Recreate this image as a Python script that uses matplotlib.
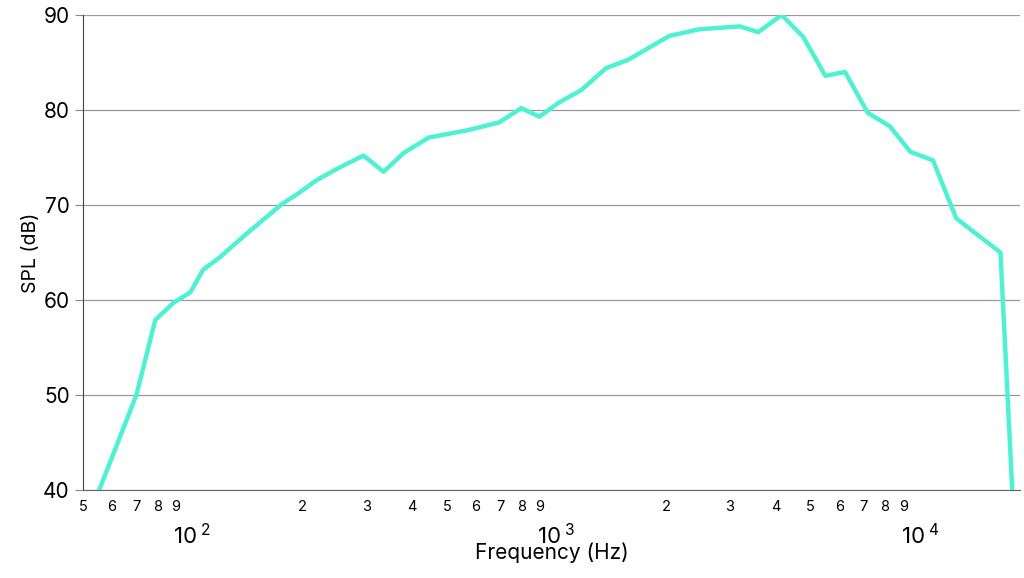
import matplotlib
matplotlib.use("Agg")
import matplotlib.pyplot as plt
import numpy as np

# frequency (Hz) and SPL (dB)
freq_hz = [55.4, 70.1, 79.0, 88.6, 98.6, 107, 118, 143, 176, 195, 219, 252,
           295, 335, 381, 446, 575, 697, 800, 898, 1017, 1171, 1369, 1577,
           2044, 2473, 3191, 3587, 4163, 4767, 5485, 6212, 7174, 8241,
           9393, 10837, 12555, 16614, 17900]
spl_db = [40, 50, 57.9, 59.7, 60.8, 63.2, 64.4, 67.2, 70.1, 71.2, 72.6, 73.9,
          75.2, 73.5, 75.5, 77.1, 77.9, 78.7, 80.2, 79.3, 80.8, 82.1, 84.4,
          85.3, 87.8, 88.5, 88.8, 88.2, 90, 87.7, 83.6, 84.0, 79.7, 78.3,
          75.6, 74.7, 68.6, 65.0, 40]

minor_vals = [50, 60, 70, 80, 90, 200, 300, 400, 500, 600, 700, 800, 900,
              2000, 3000, 4000, 5000, 6000, 7000, 8000, 9000]
minor_labels = ["5", "6", "7", "8", "9", "2", "3", "4", "5", "6", "7", "8", "9",
                "2", "3", "4", "5", "6", "7", "8", "9"]
major_vals = [100, 1000, 10000]
major_labels = [r"$10^{\ 2}$", r"$10^{\ 3}$", r"$10^{\ 4}$"]

plt.rcParams["font.family"] = ["Inter", "DejaVu Sans"]
plt.rcParams["mathtext.fontset"] = "custom"
plt.rcParams["mathtext.rm"] = "Inter"
plt.rcParams["mathtext.it"] = "Inter"

fig = plt.figure(figsize=(10.24, 5.78), dpi=100)
ax = fig.add_axes([83 / 1024, 1 - 490 / 578, (1020 - 83) / 1024, (490 - 15) / 578])

ax.plot(freq_hz, spl_db, color="#4EF2D2", linewidth=3.2, solid_joinstyle="round")

ax.set_xscale("log")
ax.set_xlim(50, 18800)
ax.set_ylim(40, 90)
ax.set_yticks([40, 50, 60, 70, 80, 90])
ax.tick_params(axis="y", labelsize=15, length=6, color="#888888")
ax.yaxis.grid(True, color="#999999", linewidth=0.9)
ax.set_axisbelow(True)

ax.set_xticks(major_vals)
ax.set_xticklabels(major_labels, fontsize=16)
ax.set_xticks(minor_vals, minor=True)
ax.set_xticklabels(minor_labels, minor=True, fontsize=10.5)
ax.tick_params(axis="x", which="major", length=0, pad=24)
ax.tick_params(axis="x", which="minor", length=0, pad=7)

for s in ["top", "right"]:
    ax.spines[s].set_visible(False)
ax.spines["left"].set_color("#444444")
ax.spines["bottom"].set_color("#666666")

ax.set_xlabel("Frequency (Hz)", fontsize=15, labelpad=-4)
ax.set_ylabel("SPL (dB)", fontsize=14, labelpad=2)

fig.savefig("out.png", dpi=100)
